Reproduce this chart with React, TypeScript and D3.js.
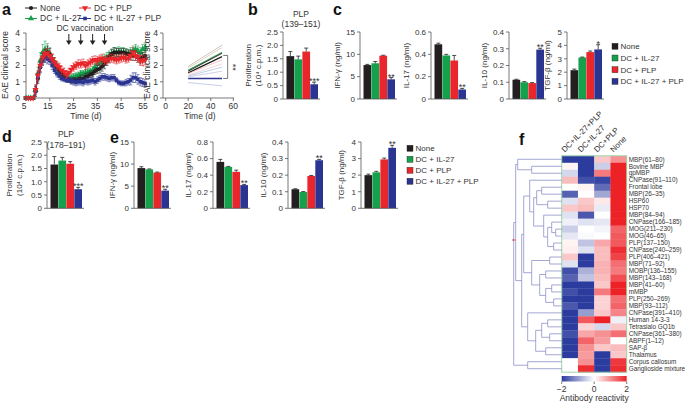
import * as d3 from "d3";

// ---- shared groups ----
const groups = ["None", "DC + IL-27", "DC + PLP", "DC + IL-27 + PLP"];
const groupColors = ["#231f20", "#15a04c", "#e8262b", "#2b3591"];

// ---- panel a: EAE clinical score, days 5..55 ----
const firstDay = 5;
const noneMean = [0, 0, 0, 0, 0.4, 1.2, 1.9, 2.4, 2.6, 2.8, 2.7, 2.4, 2.2, 1.9, 1.7, 1.5, 1.3, 1.15, 1.1, 1.05, 1.1, 1.1, 1.15, 1.2, 1.2, 1.3, 1.35, 1.45, 1.5, 1.65, 1.75, 1.8, 1.95, 2.1, 2.3, 2.5, 2.7, 2.8, 2.8, 2.8, 2.8, 2.8, 2.75, 2.7, 2.65, 2.6, 2.6, 2.5, 2.4, 2.5, 2.6];
const noneErr = [0, 0, 0, 0, 0.3, 0.3, 0.35, 0.35, 0.4, 0.4, 0.35, 0.3, 0.3, 0.25, 0.25, 0.2, 0.2, 0.15, 0.15, 0.15, 0.15, 0.15, 0.15, 0.2, 0.2, 0.2, 0.2, 0.2, 0.2, 0.2, 0.25, 0.25, 0.3, 0.3, 0.3, 0.3, 0.3, 0.3, 0.25, 0.25, 0.25, 0.25, 0.25, 0.25, 0.3, 0.3, 0.3, 0.3, 0.3, 0.3, 0.3];
const il27Mean = [0, 0, 0, 0, 0.5, 1.5, 2.3, 2.8, 3.0, 2.9, 2.7, 2.3, 2.0, 1.8, 1.6, 1.5, 1.4, 1.3, 1.2, 1.25, 1.3, 1.35, 1.4, 1.5, 1.5, 1.55, 1.6, 1.65, 1.7, 1.9, 2.1, 2.2, 2.3, 2.4, 2.5, 2.6, 2.7, 2.8, 2.8, 2.85, 2.8, 2.8, 2.75, 2.7, 2.8, 2.9, 3.0, 2.9, 2.8, 3.0, 3.1];
const il27Err = [0, 0, 0, 0, 0.3, 0.4, 0.5, 0.5, 0.5, 0.45, 0.4, 0.35, 0.3, 0.3, 0.25, 0.25, 0.2, 0.2, 0.2, 0.2, 0.2, 0.2, 0.2, 0.2, 0.2, 0.2, 0.2, 0.2, 0.25, 0.25, 0.3, 0.3, 0.3, 0.3, 0.3, 0.3, 0.3, 0.3, 0.3, 0.3, 0.3, 0.3, 0.3, 0.3, 0.3, 0.3, 0.3, 0.3, 0.3, 0.3, 0.3];
const plpMean = [0, 0, 0, 0, 0.5, 1.4, 2.0, 2.5, 2.7, 2.75, 2.6, 2.4, 2.2, 2.0, 1.9, 1.7, 1.6, 1.45, 1.55, 1.75, 1.9, 2.0, 2.1, 2.1, 2.15, 2.0, 2.1, 2.2, 2.3, 2.35, 2.3, 2.4, 2.45, 2.3, 2.35, 2.4, 2.45, 2.4, 2.35, 2.4, 2.45, 2.5, 2.4, 2.45, 2.6, 2.8, 2.6, 2.5, 2.3, 2.3, 2.35];
const plpErr = [0, 0, 0, 0, 0.3, 0.3, 0.35, 0.35, 0.3, 0.3, 0.3, 0.3, 0.25, 0.25, 0.25, 0.25, 0.25, 0.25, 0.25, 0.25, 0.25, 0.25, 0.25, 0.25, 0.25, 0.25, 0.25, 0.25, 0.25, 0.25, 0.25, 0.25, 0.25, 0.25, 0.25, 0.25, 0.25, 0.25, 0.25, 0.25, 0.25, 0.25, 0.25, 0.25, 0.3, 0.3, 0.3, 0.3, 0.3, 0.3, 0.3];
const comboMean = [0, 0, 0, 0, 0.4, 1.3, 1.9, 2.3, 2.5, 2.4, 2.3, 2.0, 1.7, 1.5, 1.35, 1.2, 1.15, 1.1, 1.1, 1.05, 1.0, 0.95, 1.0, 1.0, 0.95, 1.05, 1.0, 1.05, 1.1, 1.0, 1.1, 1.2, 1.3, 1.3, 1.25, 1.2, 1.25, 1.25, 1.1, 0.95, 0.9, 0.9, 0.95, 1.0, 1.1, 1.25, 1.25, 1.15, 1.0, 0.95, 0.9];
const comboErr = [0, 0, 0, 0, 0.3, 0.3, 0.3, 0.3, 0.3, 0.3, 0.25, 0.25, 0.2, 0.2, 0.2, 0.15, 0.15, 0.15, 0.15, 0.2, 0.2, 0.2, 0.2, 0.2, 0.2, 0.2, 0.2, 0.2, 0.2, 0.2, 0.2, 0.2, 0.2, 0.2, 0.2, 0.2, 0.2, 0.2, 0.15, 0.15, 0.15, 0.15, 0.2, 0.2, 0.3, 0.3, 0.3, 0.3, 0.25, 0.25, 0.25];
const vaccDays = [23, 28, 33, 38];
const dayTicks = [5, 15, 25, 35, 45, 55];
const scoreTicks = [0, 1, 2, 3, 4];

// regression lines (day 20 -> day 50)
const regDays = [20, 50];
const regStart = [1.95, 1.85, 1.7, 1.65, 1.55, 1.5, 1.4, 1.35, 1.3, 1.2, 0.95];
const regEnd = [3.25, 3.1, 2.8, 2.75, 2.55, 2.35, 2.1, 1.9, 1.65, 1.2, 0.75];
const regColors = ["#cdc6b8", "#ddd3c4", "#1f9a4f", "#4a3a30", "#231f20", "#f3b5b5", "#f2c8c8", "#a9c3e3", "#c5c3e6", "#2b3591", "#b9c4e8"];
const regWidths = [1, 1, 1.3, 1, 1.3, 0.8, 0.8, 0.8, 0.8, 1.3, 0.8];
const timeTicks = [0, 20, 40, 60];

// ---- bar panels ----
const plp139 = [1.6, 1.48, 1.77, 0.55];
const plp139Err = [0.17, 0.12, 0.13, 0.08];
const ifnC = [7.6, 8.0, 9.7, 4.4];
const ifnCErr = [0.15, 0.4, 0.1, 0.4];
const il17C = [0.49, 0.39, 0.345, 0.085];
const il17CErr = [0.01, 0.01, 0.045, 0.01];
const il10C = [0.115, 0.1, 0.095, 0.295];
const il10CErr = [0.003, 0.004, 0.003, 0.008];
const tgfC = [2.15, 3.1, 3.5, 3.7];
const tgfCErr = [0.08, 0.03, 0.08, 0.35];
const plp178 = [1.65, 1.8, 1.68, 0.72];
const plp178Err = [0.3, 0.12, 0.08, 0.07];
const ifnE = [9.1, 8.8, 8.1, 4.0];
const ifnEErr = [0.3, 0.1, 0.1, 0.3];
const il17E = [0.56, 0.5, 0.44, 0.28];
const il17EErr = [0.03, 0.006, 0.02, 0.008];
const il10E = [0.115, 0.098, 0.195, 0.29];
const il10EErr = [0.003, 0.003, 0.003, 0.005];
const tgfE = [2.0, 2.17, 2.95, 3.65];
const tgfEErr = [0.06, 0.06, 0.08, 0.15];

// ---- panel f: heatmap ----
const heatCols = ["DC+IL-27+PLP", "DC+IL-27", "DC+PLP", "None"];
const heatRows = ["MBP(61–80)", "Bovine MBP", "gpMBP", "CNPase(91–110)", "Frontal lobe", "MBP(26–35)", "HSP60", "HSP70", "MBP(84–94)", "CNPase(166–185)", "MOG(211–230)", "MOG(46–65)", "PLP(137–150)", "CNPase(240–259)", "PLP(406–421)", "MBP(71–92)", "MOBP(136–155)", "MBP(143–168)", "MBP(41–60)", "mMBP", "PLP(250–269)", "MBP(93–112)", "CNPase(391–410)", "Human 14-3-3", "Tetrasialo GQ1b", "CNPase(361–380)", "ABPF(1–12)", "SAP-β", "Thalamus", "Corpus callosum", "Ganglioside mixture"];
const colIl27Plp = [-2, 0.1, -0.4, 0.6, 0, -1.6, -0.3, 0.5, -0.3, -0.15, -0.5, -0.25, 0.1, 0.15, 0.5, -0.3, -1.8, -1.6, -2, -1.8, -2, -1.7, -2, -2, -2, -1.8, -2, -2, -2, 0, 0];
const colIl27 = [-2, -2, -2, -1.8, 0.1, 0, 0.5, 0.6, -1.7, -0.3, 0, -0.05, -0.6, -0.3, -2, -2, -0.8, -0.6, -2, -2, -2, -2, -1.0, 1.5, 0.4, 0.8, 1.4, 1.0, 0.9, 1.0, 1.9];
const colPlp = [0.5, -0.5, 1.2, -1.9, -1.5, -0.9, 0.2, -0.2, 0, -0.25, -0.1, 0, 0.8, 0.6, 0.6, 0.7, 0.7, 0.6, 0.5, 1.2, 0.4, 0.4, 0.5, 2, -0.4, 1.0, 0.9, 0.5, -2, -2, -2];
const colNone = [1.0, 2, 2, 2, 2, 2, 2, 2, 2, 2, 1.4, 1.5, 1.5, 1.9, 1.7, 1.3, 1.2, 1.6, 2, 2, 1.3, 1.4, 1.1, -0.15, 0.5, 1.3, 0, 0.6, 0.5, 1.8, 1.9];
// dendrogram merges: ids < 100 are rows, 100+k refers to merge k
const mergeLeft = [1, 0, 4, 6, 102, 10, 9, 12, 106, 8, 104, 3, 14, 16, 18, 20, 114, 113, 112, 111, 23, 25, 120, 27, 122, 22, 119, 29, 101, 128];
const mergeRight = [2, 100, 5, 7, 103, 11, 105, 13, 107, 108, 109, 110, 15, 17, 19, 21, 115, 116, 117, 118, 24, 26, 121, 28, 123, 124, 125, 30, 126, 127];
const mergeHeight = [30, 44, 20, 14, 25, 6, 10, 8, 14, 18, 28, 32, 12, 16, 10, 8, 16, 22, 30, 38, 14, 12, 20, 16, 26, 34, 40, 34, 46, 48];
const reactTicks = [-2, 0, 2];

const axisCol = "#555";
const textCol = "#333";
const FONT = "'Liberation Sans', Arial, Helvetica, sans-serif";

type BarProps = {
  axisX: number;
  top: number;
  bottom: number;
  max: number;
  ticks: number[];
  digits: number;
  values: number[];
  errs: number[];
  sig: string;
  ylabel: string[];
  labelOffset: number;
};

function BarPanel({ axisX, top, bottom, max, ticks, digits, values, errs, sig, ylabel, labelOffset }: BarProps) {
  const y = d3.scaleLinear().domain([0, max]).range([bottom, top]);
  const x = d3.scaleBand<number>().domain([0, 1, 2, 3]).range([axisX + 3.5, axisX + 35]).paddingInner(0.03);
  const last = values.length - 1;
  const sigTop = y(values[last] + errs[last]);
  return (
    <g>
      {values.map((v, i) => (
        <rect key={i} x={x(i)} y={y(v)} width={x.bandwidth()} height={bottom - y(v)} fill={groupColors[i]} />
      ))}
      {values.map((v, i) => {
        const cx = (x(i) ?? 0) + x.bandwidth() / 2;
        return (
          <g key={"e" + i} stroke="#222" strokeWidth={0.8}>
            <line x1={cx} x2={cx} y1={y(v)} y2={y(v + errs[i])} />
            <line x1={cx - 2} x2={cx + 2} y1={y(v + errs[i])} y2={y(v + errs[i])} />
          </g>
        );
      })}
      <line x1={axisX} x2={axisX} y1={top} y2={bottom} stroke={axisCol} strokeWidth={0.8} />
      <line x1={axisX} x2={axisX + 37} y1={bottom} y2={bottom} stroke={axisCol} strokeWidth={0.8} />
      {ticks.map((t) => (
        <g key={t}>
          <line x1={axisX - 3} x2={axisX} y1={y(t)} y2={y(t)} stroke={axisCol} strokeWidth={0.8} />
          <text x={axisX - 5} y={y(t)} dy="0.35em" textAnchor="end" fontSize={8} fill={textCol}>
            {t === 0 ? "0" : t.toFixed(digits)}
          </text>
        </g>
      ))}
      <text x={(x(last) ?? 0) + x.bandwidth() / 2} y={sigTop + 2} textAnchor="middle" fontSize={9} fill={textCol}>
        {sig}
      </text>
      {ylabel.map((l, i) => {
        const lx = axisX - labelOffset + i * 10;
        const ly = (top + bottom) / 2;
        return (
          <text key={l} transform={`translate(${lx},${ly}) rotate(-90)`} textAnchor="middle" fontSize={8} fill={textCol}>
            {l}
          </text>
        );
      })}
    </g>
  );
}

function Legend({ x, y0, step }: { x: number; y0: number; step: number }) {
  return (
    <g>
      {groups.map((g, i) => (
        <g key={g}>
          <rect x={x} y={y0 + i * step - 3} width={6} height={6} fill={groupColors[i]} stroke="#222" strokeWidth={0.4} />
          <text x={x + 8.5} y={y0 + i * step} dy="0.35em" fontSize={8} fill={textCol}>
            {g}
          </text>
        </g>
      ))}
    </g>
  );
}

const symbolPaths = [
  d3.symbol().type(d3.symbolCircle).size(14)()!,
  d3.symbol().type(d3.symbolTriangle).size(16)()!,
  d3.symbol().type(d3.symbolTriangle).size(16)()!,
  d3.symbol().type(d3.symbolSquare).size(13)()!,
];
const symbolRotate = [0, 0, 180, 0];

function PanelA() {
  const xDay = d3.scaleLinear().domain([5, 55]).range([26, 145]);
  const yScore = d3.scaleLinear().domain([0, 4]).range([98, 33]);
  const means = [noneMean, il27Mean, plpMean, comboMean];
  const errs = [noneErr, il27Err, plpErr, comboErr];
  const order = [1, 0, 3, 2];
  const line = d3
    .line<number>()
    .x((_, i) => xDay(firstDay + i))
    .y((d) => yScore(d));

  const xT = d3.scaleLinear().domain([0, 60]).range([165.7, 233.3]);

  return (
    <g>
      {/* legend */}
      {[0, 2, 1, 3].map((s, i) => {
        const lx = i % 2 === 0 ? 25 : 79;
        const ly = i < 2 ? 8 : 18.5;
        return (
          <g key={s} transform={`translate(${lx},${ly})`}>
            <line x1={0} x2={12} y1={0} y2={0} stroke={groupColors[s]} strokeWidth={1} />
            <path d={symbolPaths[s]} transform={`translate(6,0) rotate(${symbolRotate[s]})`} fill={groupColors[s]} />
            <text x={15} y={0} dy="0.35em" fontSize={8.5} fill={textCol}>
              {groups[s]}
            </text>
          </g>
        );
      })}

      {/* DC vaccination */}
      <text x={85} y={30.5} textAnchor="middle" fontSize={8.5} fill={textCol}>
        DC vaccination
      </text>
      {vaccDays.map((d) => (
        <g key={d} stroke="#222" strokeWidth={1} fill="#222">
          <line x1={xDay(d)} x2={xDay(d)} y1={34} y2={43} />
          <path d={`M${xDay(d) - 2.8},${40.5}L${xDay(d)},${45}L${xDay(d) + 2.8},${40.5}Z`} stroke="none" />
        </g>
      ))}

      {/* series */}
      {order.map((s) => (
        <g key={s}>
          <path d={line(means[s]) ?? ""} fill="none" stroke={groupColors[s]} strokeWidth={1} />
          {means[s].map((v, i) => {
            const e = errs[s][i] ?? 0;
            if (e === 0) return null;
            const cx = xDay(firstDay + i);
            return (
              <g key={i} stroke={groupColors[s]} strokeWidth={0.7} opacity={0.8}>
                <line x1={cx} x2={cx} y1={yScore(v - e)} y2={yScore(v + e)} />
                <line x1={cx - 1.5} x2={cx + 1.5} y1={yScore(v + e)} y2={yScore(v + e)} />
                <line x1={cx - 1.5} x2={cx + 1.5} y1={yScore(Math.max(0, v - e))} y2={yScore(Math.max(0, v - e))} />
              </g>
            );
          })}
          {means[s].map((v, i) => (
            <path
              key={"m" + i}
              d={symbolPaths[s]}
              transform={`translate(${xDay(firstDay + i)},${yScore(v)}) rotate(${symbolRotate[s]})`}
              fill={groupColors[s]}
            />
          ))}
        </g>
      ))}

      {/* main axes */}
      <line x1={26} x2={26} y1={33} y2={98} stroke={axisCol} strokeWidth={0.8} />
      <line x1={26} x2={146} y1={98} y2={98} stroke={axisCol} strokeWidth={0.8} />
      {scoreTicks.map((t) => (
        <g key={t}>
          <line x1={23} x2={26} y1={yScore(t)} y2={yScore(t)} stroke={axisCol} strokeWidth={0.8} />
          <text x={20} y={yScore(t)} dy="0.35em" textAnchor="end" fontSize={8.5} fill={textCol}>
            {t}
          </text>
        </g>
      ))}
      {dayTicks.map((t) => (
        <g key={t}>
          <line x1={xDay(t)} x2={xDay(t)} y1={98} y2={101} stroke={axisCol} strokeWidth={0.8} />
          <text x={xDay(t) - 2} y={109} textAnchor="middle" fontSize={8.5} fill={textCol}>
            {t}
          </text>
        </g>
      ))}
      <text x={86} y={119} textAnchor="middle" fontSize={8.5} fill={textCol}>
        Time (d)
      </text>
      <text transform="translate(8,65) rotate(-90)" textAnchor="middle" fontSize={8.5} fill={textCol}>
        EAE clinical score
      </text>

      {/* regression inset */}
      {regStart.map((s, i) => (
        <line
          key={i}
          x1={xT(regDays[0])}
          x2={xT(regDays[1])}
          y1={yScore(s)}
          y2={yScore(regEnd[i])}
          stroke={regColors[i]}
          strokeWidth={regWidths[i]}
        />
      ))}
      <path
        d={`M${xT(51)},${yScore(2.62)}H${xT(55)}V${yScore(1.2)}H${xT(51)}`}
        fill="none"
        stroke="#555"
        strokeWidth={0.8}
      />
      <text transform={`translate(${xT(57.5)},${yScore(1.9)}) rotate(90)`} textAnchor="middle" fontSize={9} fill={textCol}>
        **
      </text>
      <line x1={163} x2={163} y1={33} y2={98} stroke={axisCol} strokeWidth={0.8} />
      <line x1={163} x2={234} y1={98} y2={98} stroke={axisCol} strokeWidth={0.8} />
      {scoreTicks.map((t) => (
        <g key={t}>
          <line x1={160} x2={163} y1={yScore(t)} y2={yScore(t)} stroke={axisCol} strokeWidth={0.8} />
          <text x={158} y={yScore(t)} dy="0.35em" textAnchor="end" fontSize={8.5} fill={textCol}>
            {t}
          </text>
        </g>
      ))}
      {timeTicks.map((t) => (
        <g key={t}>
          <line x1={xT(t)} x2={xT(t)} y1={98} y2={101} stroke={axisCol} strokeWidth={0.8} />
          <text x={xT(t)} y={109} textAnchor="middle" fontSize={8.5} fill={textCol}>
            {t}
          </text>
        </g>
      ))}
      <text x={200} y={119} textAnchor="middle" fontSize={8.5} fill={textCol}>
        Time (d)
      </text>
      <text transform="translate(150,65) rotate(-90)" textAnchor="middle" fontSize={8.5} fill={textCol}>
        EAE clinical score
      </text>
    </g>
  );
}

function PanelF() {
  const heatLeft = 561.7;
  const heatRight = 626.7;
  const heatTop = 155.8;
  const heatBottom = 372.2;
  const xCol = d3.scaleBand<string>().domain(heatCols).range([heatLeft, heatRight]);
  const yRow = d3.scaleBand<string>().domain(heatRows).range([heatTop, heatBottom]);
  const color = d3.scaleLinear<string>().domain([-2, 0, 2]).range(["#2c3b9e", "#ffffff", "#ec2227"]).clamp(true);
  const cols = [colIl27Plp, colIl27, colPlp, colNone];
  const hx = d3.scaleLinear().domain([0, 48]).range([heatLeft, heatLeft - 48]);

  const mergeY: number[] = [];
  const nodeY = (id: number) => (id >= 100 ? mergeY[id - 100] : (yRow(heatRows[id]) ?? 0) + yRow.bandwidth() / 2);
  const nodeX = (id: number) => (id >= 100 ? hx(mergeHeight[id - 100]) : heatLeft);
  mergeLeft.forEach((a, k) => {
    mergeY[k] = (nodeY(a) + nodeY(mergeRight[k])) / 2;
  });
  const rootK = mergeLeft.length - 1;

  const cScale = d3.scaleLinear().domain([-2, 2]).range([heatLeft, heatRight]);

  return (
    <g>
      {cols.map((col, c) =>
        col.map((v, r) => (
          <rect
            key={c + "-" + r}
            x={xCol(heatCols[c])}
            y={yRow(heatRows[r])}
            width={xCol.bandwidth() + 0.3}
            height={yRow.bandwidth() + 0.3}
            fill={color(v)}
          />
        ))
      )}
      <rect x={heatLeft} y={heatTop} width={heatRight - heatLeft} height={heatBottom - heatTop} fill="none" stroke="#9fd8ab" strokeWidth={1} />
      {mergeLeft.map((a, k) => {
        const b = mergeRight[k];
        const xm = hx(mergeHeight[k]);
        return (
          <path
            key={k}
            d={`M${nodeX(a)},${nodeY(a)}H${xm}V${nodeY(b)}H${nodeX(b)}`}
            fill="none"
            stroke="#8d90c6"
            strokeWidth={0.8}
          />
        );
      })}
      <line x1={hx(mergeHeight[rootK]) - 1.5} x2={hx(mergeHeight[rootK]) + 1.5} y1={240} y2={240} stroke="#e8262b" strokeWidth={1} />
      {heatRows.map((r) => (
        <text key={r} x={heatRight + 2} y={(yRow(r) ?? 0) + yRow.bandwidth() / 2} dy="0.35em" fontSize={6.4} fill={textCol}>
          {r}
        </text>
      ))}
      {heatCols.map((c) => (
        <text
          key={c}
          transform={`translate(${(xCol(c) ?? 0) + 3},${heatTop - 3}) rotate(-45)`}
          fontSize={8}
          fill={textCol}
        >
          {c}
        </text>
      ))}
      <defs>
        <linearGradient id="reactGrad" x1="0" x2="1" y1="0" y2="0">
          <stop offset="0" stopColor={color(-2)} />
          <stop offset="0.5" stopColor={color(0)} />
          <stop offset="1" stopColor={color(2)} />
        </linearGradient>
      </defs>
      <rect x={heatLeft} y={376} width={heatRight - heatLeft} height={5.5} fill="url(#reactGrad)" />
      {reactTicks.map((t) => (
        <g key={t}>
          <line x1={cScale(t)} x2={cScale(t)} y1={381.5} y2={384} stroke={axisCol} strokeWidth={0.8} />
          <text x={cScale(t)} y={392} textAnchor="middle" fontSize={8.5} fill={textCol}>
            {t < 0 ? "−" + Math.abs(t) : t}
          </text>
        </g>
      ))}
      <text x={(heatLeft + heatRight) / 2} y={401} textAnchor="middle" fontSize={8.5} fill={textCol}>
        Antibody reactivity
      </text>
    </g>
  );
}

export default function App() {
  const top1 = 32;
  const bot1 = 99;
  const top2 = 142;
  const bot2 = 208.3;
  return (
    <div style={{ position: "absolute", left: 0, top: 0 }}>
      <svg width={685} height={404} fontFamily={FONT} style={{ display: "block", background: "#fff" }}>
        {/* panel letters */}
        <g fontSize={16} fontWeight="bold" fill="#111">
          <text x={2} y={15}>a</text>
          <text x={248} y={15}>b</text>
          <text x={333} y={15}>c</text>
          <text x={2} y={141.5}>d</text>
          <text x={110} y={143}>e</text>
          <text x={519} y={145}>f</text>
        </g>

        <PanelA />

        {/* b */}
        <text x={301} y={16.5} textAnchor="middle" fontSize={8.5} fill={textCol}>PLP</text>
        <text x={301} y={26.5} textAnchor="middle" fontSize={8.5} fill={textCol}>(139–151)</text>
        <BarPanel axisX={283} top={top1} bottom={bot1} max={2.5} ticks={[0, 0.5, 1, 1.5, 2, 2.5]} digits={1}
          values={plp139} errs={plp139Err} sig="***" ylabel={["Proliferation", "(10⁴ c.p.m.)"]} labelOffset={32} />

        {/* c */}
        <BarPanel axisX={360} top={top1} bottom={bot1} max={15} ticks={[0, 5, 10, 15]} digits={0}
          values={ifnC} errs={ifnCErr} sig="**" ylabel={["IFN-γ (ng/ml)"]} labelOffset={20} />
        <BarPanel axisX={431} top={top1} bottom={bot1} max={0.6} ticks={[0, 0.2, 0.4, 0.6]} digits={1}
          values={il17C} errs={il17CErr} sig="**" ylabel={["IL-17 (ng/ml)"]} labelOffset={22} />
        <BarPanel axisX={509} top={top1} bottom={bot1} max={0.4} ticks={[0, 0.1, 0.2, 0.3, 0.4]} digits={1}
          values={il10C} errs={il10CErr} sig="**" ylabel={["IL-10 (ng/ml)"]} labelOffset={22} />
        <BarPanel axisX={567} top={top1} bottom={bot1} max={5} ticks={[0, 1, 2, 3, 4, 5]} digits={0}
          values={tgfC} errs={tgfCErr} sig="*" ylabel={["TGF-β (ng/ml)"]} labelOffset={17} />
        <Legend x={612} y0={46.3} step={11.7} />

        {/* d */}
        <text x={66} y={137} textAnchor="middle" fontSize={8.5} fill={textCol}>PLP</text>
        <text x={66} y={147.5} textAnchor="middle" fontSize={8.5} fill={textCol}>(178–191)</text>
        <BarPanel axisX={47} top={top2} bottom={bot2} max={2.5} ticks={[0, 0.5, 1, 1.5, 2, 2.5]} digits={1}
          values={plp178} errs={plp178Err} sig="***" ylabel={["Proliferation", "(10⁴ c.p.m.)"]} labelOffset={35} />

        {/* e */}
        <BarPanel axisX={134} top={top2} bottom={bot2} max={15} ticks={[0, 5, 10, 15]} digits={0}
          values={ifnE} errs={ifnEErr} sig="**" ylabel={["IFN-γ (ng/ml)"]} labelOffset={19} />
        <BarPanel axisX={213} top={top2} bottom={bot2} max={0.8} ticks={[0, 0.2, 0.4, 0.6, 0.8]} digits={1}
          values={il17E} errs={il17EErr} sig="**" ylabel={["IL-17 (ng/ml)"]} labelOffset={22} />
        <BarPanel axisX={288} top={top2} bottom={bot2} max={0.4} ticks={[0, 0.1, 0.2, 0.3, 0.4]} digits={1}
          values={il10E} errs={il10EErr} sig="**" ylabel={["IL-10 (ng/ml)"]} labelOffset={22} />
        <BarPanel axisX={361} top={top2} bottom={bot2} max={4} ticks={[0, 1, 2, 3, 4]} digits={0}
          values={tgfE} errs={tgfEErr} sig="**" ylabel={["TGF-β (ng/ml)"]} labelOffset={17} />
        <Legend x={407} y0={148.3} step={11} />

        <PanelF />
      </svg>
    </div>
  );
}
